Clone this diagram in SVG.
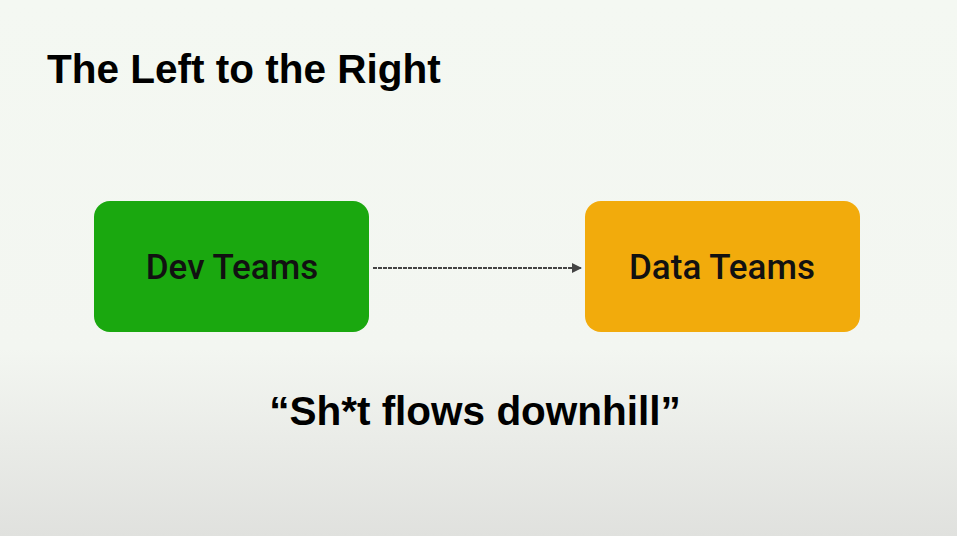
<svg xmlns="http://www.w3.org/2000/svg" width="957" height="536" viewBox="0 0 957 536">
<defs>
<linearGradient id="bg" x1="0" y1="0" x2="0" y2="1">
<stop offset="0" stop-color="#f4f8f2"/>
<stop offset="0.65" stop-color="#f3f6f1"/>
<stop offset="1" stop-color="#e0e1de"/>
</linearGradient>
<marker id="ah" viewBox="0 0 10 10" refX="9" refY="5" markerWidth="5" markerHeight="5" orient="auto"><path d="M0,0 L10,5 L0,10 z" fill="#444"/></marker>
<style>
.t{font-family:"Liberation Sans",Arial,sans-serif;font-weight:bold;fill:#000}
.l{font-family:Roboto,"Liberation Sans",sans-serif;font-weight:500;font-size:35px;fill:#111;text-anchor:middle}
</style>
</defs>
<rect width="957" height="536" fill="url(#bg)"/>
<text class="t" x="47" y="83" font-size="40.5">The Left to the Right</text>
<g id="dev"><rect x="94" y="201" width="275" height="131" rx="16" fill="#1aa80f"/><text class="l" x="232" y="279">Dev Teams</text></g>
<g id="data"><rect x="585" y="201" width="275" height="131" rx="16" fill="#f2ab0c"/><text class="l" x="722" y="279">Data Teams</text></g>
<g id="connectors"><line x1="373" y1="268" x2="581" y2="268" stroke="#444" stroke-width="2" stroke-dasharray="4,1" marker-end="url(#ah)"/></g>
<text class="t" x="475" y="425" font-size="40.5" text-anchor="middle">“Sh*t flows downhill”</text>
</svg>
